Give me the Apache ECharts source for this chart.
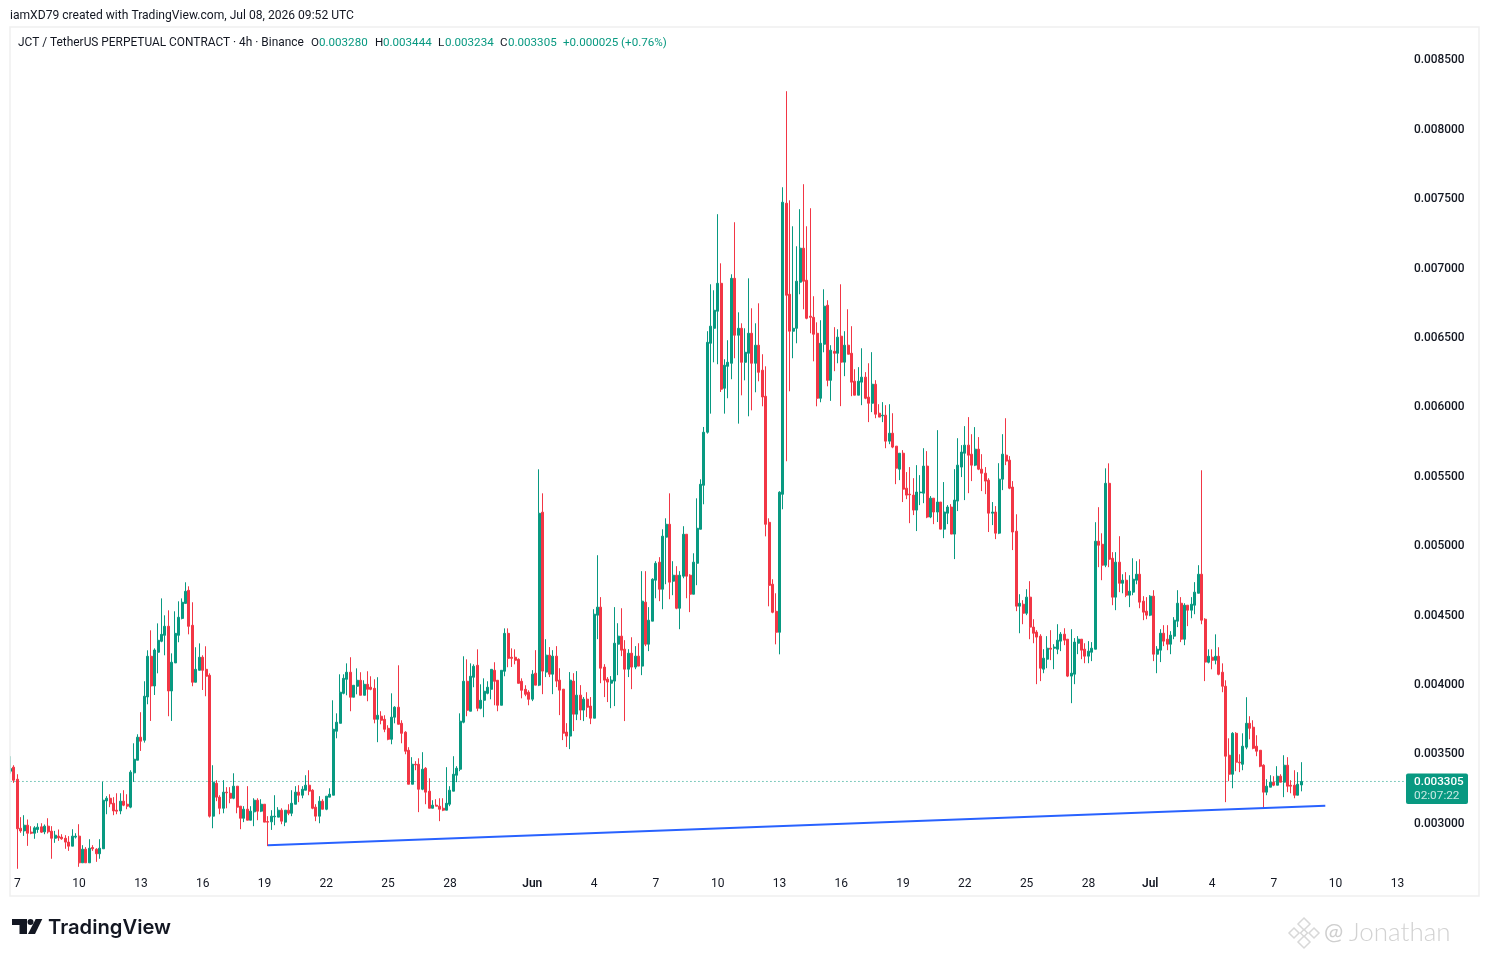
<!DOCTYPE html>
<html><head><meta charset="utf-8">
<style>html,body{margin:0;padding:0;background:#fff}#c{width:1489px;height:957px}</style>
<script src="https://cdn.jsdelivr.net/npm/echarts@6/dist/echarts.min.js"></script>
</head><body><div id="c"></div>
<script>
// 4h candles, millionths of USDT, first bar = May 6 16:00 UTC
const opens=[3379,3408,3321,2968,2949,2990,2940,2932,2959,2978,
2942,2983,2947,2896,2911,2904,2896,2868,2839,2904,
2911,2719,2817,2719,2829,2817,2784,2820,3165,3184,
3148,3098,3093,3163,3141,3120,3367,3458,3624,3602,
3914,4207,3993,4236,4315,4358,4423,3957,4159,4358,
4480,4588,4682,4430,4020,4106,4200,4113,4070,3055,
3292,3192,3112,3228,3220,3184,3271,3127,3040,3105,
3026,3086,3170,3091,3141,3016,3014,3050,3048,3098,
3012,3098,3076,3141,3228,3206,3242,3278,3242,3120,
3055,3163,3105,3192,3206,3667,3724,3940,4041,4092,
3912,3991,4034,3926,4005,3984,3976,3753,3775,3753,
3688,3609,3768,3840,3724,3660,3530,3285,3429,3429,
3249,3400,3235,3112,3134,3127,3112,3098,3141,3235,
3350,3393,3732,4027,3811,4056,4142,3832,3890,3940,
3969,4106,4034,3854,4099,4372,4200,4200,4185,4027,
3969,3948,3898,4085,3999,5245,4093,4215,4078,4208,
4035,3970,3661,3632,4028,3790,3927,3819,3898,3848,
3761,4503,4561,4129,4042,4013,4028,4294,4352,4258,
4114,4229,4129,4208,4136,4597,4294,4460,4755,4885,
4690,5065,5158,4748,4791,4553,4784,5086,4791,4654,
4877,5122,5439,5821,6462,6570,6693,6894,6138,6296,
6318,6930,6520,6570,6325,6390,6534,6318,6448,6268,
6080,5172,4726,4531,4380,5374,7471,6815,6549,6570,
6902,7147,6916,6657,6649,6534,6066,6455,6736,6195,
6404,6390,6513,6326,6448,6390,6189,6088,6182,6218,
6074,6030,6167,5958,5939,5944,5757,5814,5721,5555,
5670,5418,5375,5368,5260,5385,5382,5577,5210,5346,
5246,5318,5123,5238,5282,5087,5325,5570,5670,5728,
5663,5584,5699,5555,5526,5476,5238,5246,5094,5483,
5656,5620,5426,5108,4568,4582,4517,4633,4417,4381,
4352,4114,4186,4265,4265,4258,4316,4366,4330,4064,
4078,4301,4330,4258,4208,4236,4258,5036,5014,4863,
5453,4913,4633,4885,4733,4755,4647,4669,4755,4798,
4604,4532,4503,4640,4222,4251,4373,4330,4294,4352,
4460,4589,4330,4575,4539,4575,4661,4798,4474,4164,
4200,4178,4207,4092,3991,3494,3357,3652,3444,3429,
3552,3724,3696,3559,3530,3422,3228,3264,3300,3278,
3343,3300,3422,3278,3278,3206,3280];
const closes=[3398,3314,2964,2949,2990,2932,2932,2971,2976,2940,
2983,2942,2896,2918,2899,2892,2868,2839,2911,2911,
2719,2817,2719,2824,2820,2784,2824,3170,3184,3144,
3093,3091,3163,3134,3127,3372,3465,3624,3595,3919,
4207,3993,4252,4322,4365,4423,3957,4164,4372,4488,
4596,4675,4423,4020,4113,4200,4106,4063,3055,3300,
3192,3112,3228,3223,3184,3271,3120,3040,3105,3026,
3091,3170,3091,3141,3012,3012,3055,3055,3098,3019,
3098,3076,3148,3228,3206,3249,3278,3235,3112,3055,
3163,3105,3199,3213,3681,3732,3948,4048,4092,3912,
3998,4034,3926,4005,3969,3969,3753,3782,3746,3681,
3609,3768,3840,3717,3652,3523,3285,3429,3424,3249,
3393,3228,3112,3134,3127,3105,3098,3148,3242,3357,
3400,3739,4027,3818,4063,4135,3832,3890,3955,3984,
4113,4027,3854,4106,4372,4192,4192,4178,4012,3962,
3933,3897,4078,3999,5237,4100,4215,4078,4208,4028,
3963,3653,3632,4035,3790,3927,3819,3898,3840,3761,
4510,4561,4121,4035,4021,4035,4301,4352,4251,4114,
4229,4129,4208,4136,4604,4294,4467,4762,4877,4690,
5072,5158,4741,4791,4553,4791,5086,4784,4654,4885,
5129,5446,5821,6469,6585,6700,6894,6131,6304,6325,
6930,6520,6570,6325,6397,6534,6318,6448,6253,6075,
5158,4718,4524,4380,5389,7478,6808,6549,6570,6909,
7147,6909,6642,6649,6527,6066,6462,6729,6195,6412,
6390,6506,6326,6448,6383,6182,6088,6189,6218,6066,
6030,6167,5951,5930,5944,5757,5814,5714,5562,5670,
5411,5368,5370,5260,5390,5390,5577,5210,5346,5246,
5318,5123,5246,5282,5087,5332,5584,5678,5728,5656,
5584,5699,5555,5526,5469,5238,5246,5094,5483,5663,
5613,5418,5102,4568,4589,4517,4633,4417,4373,4345,
4121,4193,4265,4258,4273,4323,4366,4323,4064,4085,
4309,4330,4251,4208,4244,4265,5036,5007,4863,5453,
4906,4633,4885,4733,4755,4647,4676,4762,4798,4597,
4525,4503,4640,4222,4258,4373,4316,4294,4359,4467,
4589,4330,4575,4539,4582,4669,4798,4467,4165,4207,
4178,4207,4077,3991,3487,3357,3652,3444,3439,3559,
3724,3688,3544,3523,3415,3228,3271,3300,3278,3343,
3300,3422,3271,3271,3206,3285,3305];
const lows=[3362,3295,2676,2935,2913,2841,2925,2892,2935,2935,
2925,2930,2748,2863,2877,2885,2820,2805,2839,2894,
2690,2719,2719,2719,2805,2726,2748,2820,3069,3120,
3062,3069,3069,3127,3105,3112,3302,3458,3525,3585,
3861,3741,3928,4084,4308,4214,3775,3741,4159,4308,
4473,4588,4365,3991,4020,4106,3964,3919,3045,2968,
3163,3069,3076,3112,3148,3177,3076,2961,3012,3026,
3026,2983,3026,3084,3012,2839,2956,2990,3048,2997,
2983,3062,3055,3141,3156,3184,3242,3206,3105,3019,
3004,3105,3098,3192,3206,3616,3724,3933,3926,3811,
3912,3933,3926,3926,3883,3962,3724,3588,3717,3660,
3602,3573,3724,3717,3580,3501,3285,3285,3386,3084,
3242,3141,3112,3112,3127,3019,3091,3098,3127,3235,
3300,3379,3724,3775,3811,3984,3811,3825,3768,3933,
3897,3854,3811,3854,4063,4128,4130,4149,4012,3904,
3919,3854,3884,3999,3992,3934,4057,4057,3934,3985,
3783,3603,3553,3538,3668,3747,3747,3740,3769,3718,
3761,4330,4013,3913,3877,3833,3848,4071,4208,3740,
4057,3970,4114,4136,4071,4280,4244,4460,4625,4604,
4546,4726,4618,4647,4546,4402,4769,4625,4525,4654,
4719,5122,5302,5811,5955,6325,6311,6111,5955,6066,
6203,6354,5883,6087,6195,5936,5979,6109,6188,6008,
5071,4567,4517,4293,4221,5266,5612,6116,6354,6462,
6815,6707,6635,6534,6332,6008,6037,6397,6152,6047,
6261,6318,6009,6225,6383,6081,6088,6088,6016,6059,
5894,5966,5922,5930,5894,5706,5735,5706,5447,5476,
5318,5339,5166,5224,5109,5296,5310,5202,5202,5159,
5174,5123,5058,5159,5087,4907,5253,5498,5332,5382,
5469,5577,5548,5397,5375,5102,5152,5051,5087,5404,
5584,5411,4972,4532,4373,4438,4503,4330,4301,4006,
4028,4085,4121,4179,4114,4222,4244,4287,4057,3869,
4006,4222,4186,4157,4157,4172,4258,4849,4755,4849,
4849,4575,4539,4669,4661,4633,4561,4647,4726,4553,
4467,4474,4496,4172,4085,4165,4280,4251,4222,4330,
4417,4309,4287,4424,4481,4510,4661,4438,4028,4156,
4113,4149,4070,3948,3156,3307,3256,3379,3372,3386,
3537,3609,3537,3487,3408,3110,3206,3264,3271,3278,
3300,3192,3228,3220,3184,3206,3234];
const highs=[3487,3422,3357,3048,3062,3031,2983,2983,3004,3004,
2995,3040,2983,2949,2959,2925,2918,2911,2961,2932,
2997,2846,2832,2889,2846,2824,2889,3304,3199,3213,
3192,3220,3220,3242,3213,3386,3580,3645,3804,4027,
4250,4394,4264,4444,4624,4502,4538,4228,4531,4603,
4624,4740,4711,4596,4272,4300,4214,4279,4084,3422,
3314,3206,3314,3264,3264,3364,3271,3127,3127,3271,
3127,3184,3184,3177,3141,3055,3098,3206,3120,3112,
3098,3141,3242,3271,3278,3271,3350,3386,3249,3141,
3199,3177,3199,3256,3890,3796,4077,4077,4156,4200,
3998,4120,4092,4034,4099,4063,4041,4056,3811,3782,
3710,3940,3847,4142,3746,3667,3552,3480,3451,3472,
3516,3408,3328,3170,3177,3184,3184,3408,3271,3487,
3415,3796,4207,4185,4156,4149,4257,4005,4048,4027,
4113,4164,4034,4106,4408,4408,4264,4257,4192,4048,
3998,3962,4107,4251,5554,5381,4330,4273,4251,4280,
4121,3970,3725,4093,4085,4100,3999,3913,3948,3913,
4546,4935,4633,4150,4057,4064,4561,4445,4553,4323,
4258,4344,4280,4301,4820,4820,4561,4769,4892,4921,
5122,5201,5381,4892,4856,4820,5144,5086,4798,4949,
5345,5482,5859,6549,6887,6844,7392,7038,6347,6484,
6959,7334,6685,6606,6570,6930,6714,6606,6750,6383,
6296,5201,4762,4661,5396,7586,8278,7492,7305,7161,
7428,7608,7305,7435,6801,6613,6628,6851,6772,6448,
6578,6563,6887,6549,6707,6585,6275,6290,6426,6254,
6318,6398,6196,6023,6038,6016,6023,5958,5721,5670,
5692,5534,5570,5490,5584,5512,5706,5685,5361,5346,
5836,5318,5462,5296,5303,5555,5778,5728,5865,5930,
5807,5858,5786,5663,5570,5490,5318,5289,5598,5807,
5922,5649,5469,5230,4654,4611,4690,4748,4474,4395,
4366,4258,4352,4395,4294,4438,4381,4409,4330,4402,
4338,4352,4330,4301,4316,4309,5173,5281,5093,5561,
5597,4957,4957,5072,4798,4813,4791,4913,4892,4906,
4640,4633,4647,4683,4280,4402,4431,4431,4388,4489,
4683,4633,4589,4575,4633,4741,4863,5547,4481,4257,
4257,4365,4272,4156,4034,3616,3660,3660,3501,3652,
3912,3775,3746,3638,3530,3429,3321,3350,3343,3415,
3357,3494,3480,3314,3386,3372,3444];
const priceUnit=1e6;
const firstBarUTC=Date.UTC(2026,4,6,16);
const barHours=4;
const barCount=407;
const tickDays=[1,4,7,10,13,16,19,22,25,28];
const monthNames=['Jan','Feb','Mar','Apr','May','Jun','Jul','Aug','Sep','Oct','Nov','Dec'];
const lastPrice=3305;
const trendBars=[75,383];
const trendPrices=[2845,3130];
const priceTicks={min:2500,max:8500,step:500};

const UP='#089981',DOWN='#F23645',TXT='#131722',FONT='Roboto, "Open Sans", sans-serif';
const categories=[];
for(let i=0;i<barCount;i++){
  const d=new Date(firstBarUTC+i*barHours*3600e3);
  let lab='';
  if(d.getUTCHours()===0&&tickDays.includes(d.getUTCDate())){
    lab=d.getUTCDate()===1?monthNames[d.getUTCMonth()]:String(d.getUTCDate());
  }
  categories.push({value:lab});
}
const candleData=opens.map((o,i)=>[o/priceUnit,closes[i]/priceUnit,lows[i]/priceUnit,highs[i]/priceUnit]);
const lastPriceLine=categories.map(()=>lastPrice/priceUnit);
const band=3.433,gridLeft=8.74;
function txt(t,x,y,fill,font,extra){return {type:'text',x,y,silent:true,z:200,style:Object.assign({text:t,fill,font,textVerticalAlign:'middle'},extra||{})};}
const fTop='12.1px '+FONT, fTitle='11.9px '+FONT, f11='11.6px '+FONT;
const g=[
 {type:'rect',silent:true,z:150,shape:{x:0,y:20,width:10,height:885},style:{fill:'#fff'}},
 {type:'rect',silent:true,z:151,shape:{x:10,y:27,width:1469,height:869},style:{fill:'none',stroke:'#f0f0f0',lineWidth:1.5}},
 txt('iamXD79 created with TradingView.com, Jul 08, 2026 09:52 UTC',10,15.5,TXT,fTop),
 txt('JCT / TetherUS PERPETUAL CONTRACT · 4h · Binance',18,43.5,TXT,fTitle),
 txt('O',311,43.5,TXT,f11),txt('0.003280',319,43.5,UP,f11),
 txt('H',375,43.5,TXT,f11),txt('0.003444',383,43.5,UP,f11),
 txt('L',438,43.5,TXT,f11),txt('0.003234',445,43.5,UP,f11),
 txt('C',500,43.5,TXT,f11),txt('0.003305',508,43.5,UP,f11),
 txt('+0.000025 (+0.76%)',563,43.5,UP,f11),
 {type:'rect',silent:true,z:190,shape:{x:1406,y:773.5,width:62,height:30.5,r:2},style:{fill:UP}},
 txt('0.003305',1414,782.5,'#fff','500 11.7px '+FONT),
 txt('02:07:22',1414,796,'rgba(255,255,255,0.78)','11.8px '+FONT),
 // TradingView logo
 {type:'polygon',silent:true,z:200,shape:{points:[[12,919],[27,919],[27,934],[19.5,934],[19.5,925],[12,925]]},style:{fill:'#131722'}},
 {type:'circle',silent:true,z:200,shape:{cx:30.5,cy:922,r:3},style:{fill:'#131722'}},
 {type:'polygon',silent:true,z:200,shape:{points:[[35.7,919],[42.3,919],[35,934],[28,934]]},style:{fill:'#131722'}},
 txt('TradingView',48,928,'#131722','600 20.2px Inter, Roboto, sans-serif'),
 // watermark
 txt('@',1324,933,'#cfcfcf','23px Lato, sans-serif'),
 txt('Jonathan',1349,933,'#d2d2d2','300 26px Lato, sans-serif',{}),
];
[[1304,924,6],[1294,933,5],[1314,933,5],[1304,942,6],[1304,933,3.5]].forEach(([cx,cy,r])=>{
 g.push({type:'polygon',silent:true,z:200,shape:{points:[[cx,cy-r],[cx+r,cy],[cx,cy+r],[cx-r,cy]]},style:{fill:'none',stroke:'#d8d8d8',lineWidth:1.5}});
});
const chart=echarts.init(document.getElementById('c'),null,{renderer:'canvas',width:1489,height:957});
chart.setOption({
 animation:false,backgroundColor:'#fff',
 grid:{left:gridLeft,top:60.4,width:band*barCount,height:832.8},
 xAxis:{type:'category',data:categories,boundaryGap:true,offset:-19,
  axisLine:{show:false},axisTick:{show:false},splitLine:{show:false},
  axisLabel:{color:TXT,fontFamily:FONT,fontSize:12,margin:4,hideOverlap:false,showMinLabel:true,showMaxLabel:true,
   interval:(i,v)=>v!=='',
   formatter:v=>monthNames.includes(v)?'{m|'+v+'}':v,
   rich:{m:{fontWeight:600,fontSize:12,color:TXT,fontFamily:FONT}}}},
 yAxis:{type:'value',position:'right',min:priceTicks.min/priceUnit,max:priceTicks.max/priceUnit,interval:priceTicks.step/priceUnit,
  axisLine:{show:false},axisTick:{show:false},splitLine:{show:false},
  axisLabel:{color:TXT,fontFamily:FONT,fontSize:11.9,fontWeight:500,margin:8,padding:[3,0,0,0],showMinLabel:false,formatter:v=>v.toFixed(6)}},
 series:[
  {type:'line',data:lastPriceLine,showSymbol:false,z:1,silent:true,
   lineStyle:{color:UP,type:[1,3],width:1}},
  {type:'candlestick',data:candleData,barWidth:2.5,z:3,
   itemStyle:{color:UP,color0:DOWN,borderColor:UP,borderColor0:DOWN,borderWidth:1}},
  {type:'line',data:[[trendBars[0],trendPrices[0]/priceUnit],[trendBars[1],trendPrices[1]/priceUnit]],
   showSymbol:false,lineStyle:{color:'#2962FF',width:2},z:5}
 ],
 graphic:g
});
</script></body></html>
